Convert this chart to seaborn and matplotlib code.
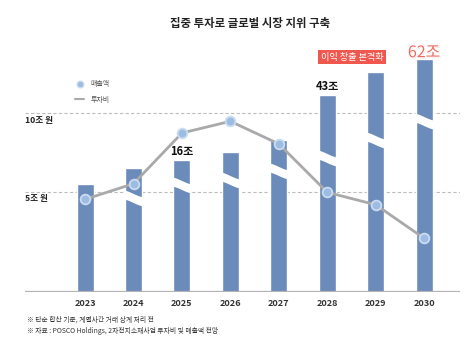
import numpy as np
import pandas as pd
import matplotlib
matplotlib.use("Agg")
import matplotlib.pyplot as plt
import matplotlib.patheffects as pe
from matplotlib.lines import Line2D
from matplotlib.patches import Polygon
from matplotlib.transforms import blended_transform_factory
import seaborn as sns

# ---------------- data ----------------
years = [2023, 2024, 2025, 2026, 2027, 2028, 2029, 2030]
# 투자비 (조 원), on the 5조/10조 grid scale
invest = [4.5, 5.5, 8.75, 9.5, 8.05, 4.95, 4.15, 2.0]
# 매출액 bars: drawn height on the broken (compressed) display scale
sales_bar = [6.92, 7.95, 8.46, 8.97, 9.74, 12.63, 14.10, 14.94]
# where each bar carries its white "break" slash (same display scale)
break_at = [None, 6.0, 6.83, 7.15, 7.73, 8.56, 9.71, 10.93]
sales_labels = ["", "", "16조", "", "", "43조", "", "62조"]
grid_vals = [5, 10]
grid_labels = ["5조 원", "10조 원"]
title = "집중 투자로 글로벌 시장 지위 구축"
badge = "이익 창출 본격화"
notes = ["※ 단순 합산 기준, 계열사간 거래 상계 처리 전",
         "※ 자료 : POSCO Holdings, 2차전지소재사업 투자비 및 매출액 전망"]

# ---------------- style ----------------
sns.set_style("white")
plt.rcParams['font.family'] = ['Noto Sans CJK KR', 'DejaVu Sans']

BAR = "#6b8bba"
LINE = "#a9a9a9"
MFACE = "#9dbce2"
MEDGE = "#cadcf1"
RED = "#f0584f"
GRID = "#bdbdbd"

W, H = 474, 342
fig = plt.figure(figsize=(W / 100, H / 100), dpi=100)
ax = fig.add_axes([25 / W, 50 / H, 435 / W, 252 / H])

df = pd.DataFrame({"year": years, "sales": sales_bar})
sns.barplot(data=df, x="year", y="sales", color=BAR, saturation=1,
            width=0.35, errorbar=None, ax=ax, zorder=2)

ax2 = ax.twinx()
pos = np.arange(len(years))
sns.lineplot(x=pos, y=invest, ax=ax2, color=LINE, lw=2.0, sort=False,
             marker="o", markersize=7, markerfacecolor=MFACE,
             markeredgecolor=MEDGE, markeredgewidth=1.3, zorder=5)

ax.set_xlim(-1.24, 7.74)
ax2.set_xlim(-1.24, 7.74)
ax.set_ylim(0, 16.15)
ax2.set_ylim(-1.44, 14.71)

for a in (ax, ax2):
    for s in a.spines.values():
        s.set_visible(False)
    a.set_ylabel("")
    a.set_xlabel("")
    a.set_yticks([])
ax.set_xticks(pos)
ax.set_xticklabels([str(y) for y in years], fontsize=6.6, fontweight="bold",
                   color="#333333")
ax.tick_params(axis="x", length=0, pad=5)

# baseline
ax.axhline(0, color="#b3b3b3", lw=1.6, zorder=3)

# dashed grid lines (behind bars) at the 투자비 scale values
btr = blended_transform_factory(ax.transAxes, ax2.transData)
for v, lab in zip(grid_vals, grid_labels):
    ax.add_line(Line2D([0, 1], [v, v], transform=btr, color=GRID, lw=0.8,
                       ls=(0, (3, 2)), zorder=1))
    ax.text(0.0, v - 0.15, lab, transform=btr, fontsize=6.2,
            fontweight="bold", color="#222222", va="top", ha="left")

# break slashes on bars (smooth S-shaped white bands)
t = np.linspace(0, 1, 30)
s = 0.45 * t + 0.55 * (3 * t ** 2 - 2 * t ** 3)
for i, b in enumerate(break_at):
    if b is None:
        continue
    x0, x1 = i - 0.2, i + 0.2
    xs = x0 + (x1 - x0) * t
    drop = 0.45
    half = 0.29
    upper = b + half + drop / 2 - drop * s
    lower = b - half + drop / 2 - drop * s
    pts = np.concatenate([np.column_stack([xs, upper]),
                          np.column_stack([xs[::-1], lower[::-1]])])
    ax.add_patch(Polygon(pts, closed=True, facecolor="white",
                         edgecolor="none", zorder=4))

# value labels
for i, lab in enumerate(sales_labels):
    if not lab:
        continue
    if lab == "62조":
        ax.text(i, sales_bar[i] - 0.15, lab, ha="center", va="bottom",
                fontsize=11.5, color="#f26a60", zorder=6,
                path_effects=[pe.withSimplePatchShadow(offset=(0.8, -0.8),
                                                       shadow_rgbFace="#888888",
                                                       alpha=0.35),
                              pe.Stroke(linewidth=1.6, foreground="white"),
                              pe.Normal()])
    else:
        ax.text(i, sales_bar[i] + 0.15, lab, ha="center", va="bottom",
                fontsize=8, fontweight="bold", color="#111111", zorder=6)

# badge
ax.text(5.51, 15.06, badge, ha="center", va="center", fontsize=6.6,
        color="white", zorder=6,
        bbox=dict(boxstyle="square,pad=0.3", facecolor=RED, edgecolor="none"))

# legend
handles = [Line2D([], [], ls="none", marker="o", markersize=4.8,
                  markerfacecolor=MFACE, markeredgecolor=MEDGE),
           Line2D([], [], color=LINE, lw=1.5)]
fig.legend(handles, ["매출액", "투자비"], loc="upper left",
           bbox_to_anchor=(75 / W, 1 - 80 / H), frameon=False,
           fontsize=5.0, labelcolor="#555555", handlelength=1.3,
           handletextpad=0.9, labelspacing=1.1, borderpad=0,
           borderaxespad=0)

# title and notes
fig.text(250 / W, 1 - 23 / H, title, ha="center", va="center",
         fontsize=8.2, fontweight="bold", color="#222222")
fig.text(27 / W, 1 - 320 / H, notes[0], ha="left", va="center",
         fontsize=4.9, color="#333333")
fig.text(27 / W, 1 - 331 / H, notes[1], ha="left", va="center",
         fontsize=4.9, color="#333333")

fig.savefig("out.png", dpi=100)
